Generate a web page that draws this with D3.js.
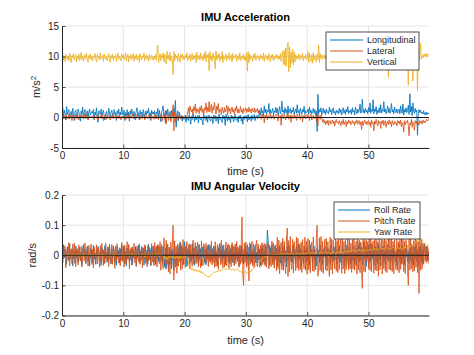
<!DOCTYPE html>
<html>
<head>
<meta charset="utf-8">
<script src="https://cdn.jsdelivr.net/npm/d3@7"></script>
<style>
  html,body{margin:0;padding:0;background:#fff;}
  text{font-family:"Liberation Sans",Arial,Helvetica,sans-serif;}
</style>
</head>
<body>
<script>
// ---------- DATA (sampled every 0.125 s, one row = 5 s) ----------
const sampleStep = 0.125;

const accel_long = [
0.9,1.6,0.2,1.2,0.6,-0.4,1.8,0.5,1.0,1.3,-0.2,0.7,1.0,0.3,1.5,0.6,-0.5,0.8,1.2,0.4,0.1,1.4,0.9,0.3,-0.6,1.1,0.5,1.7,0.2,0.8,1.3,0.0,0.6,1.1,-0.3,0.9,1.4,0.4,0.7,1.0,
0.7,1.3,-0.3,0.9,0.4,1.6,0.2,-0.8,1.1,0.6,0.5,1.4,0.0,0.8,1.2,0.3,-0.4,0.6,1.0,0.2,0.3,1.5,0.7,-0.2,0.9,1.2,0.4,0.0,1.3,0.5,0.8,-0.5,1.1,0.6,1.4,0.1,0.9,0.4,1.7,0.6,
0.4,1.2,-0.5,0.8,0.3,1.3,0.1,0.9,-0.6,1.1,0.5,1.4,0.7,0.2,1.0,-0.3,0.6,1.0,1.6,0.3,0.8,-0.4,1.2,0.5,0.9,0.1,1.3,0.6,-0.2,1.0,0.4,1.1,0.7,1.5,0.2,0.8,-0.5,1.2,0.6,0.9,
0.5,1.1,-0.2,0.9,0.6,1.5,0.0,1.2,0.4,-0.7,0.8,1.3,1.9,0.3,0.7,-0.9,1.1,0.5,1.4,0.2,0.6,1.0,-0.4,1.2,0.8,0.1,1.6,0.4,2.8,-1.6,0.6,1.1,-0.5,0.9,0.3,-0.2,0.4,-0.6,0.2,-0.3,
-0.2,0.4,-0.8,0.1,-0.3,-0.5,0.5,-0.1,-1.1,0.2,-0.3,0.6,0.0,-0.7,0.3,-0.4,0.0,0.3,-0.9,0.4,-0.2,-0.4,0.1,-0.6,-1.2,0.5,-0.2,0.2,-0.5,0.3,-0.8,0.1,0.4,-0.3,-0.6,0.2,-0.1,-1.0,0.4,-0.2,
0.3,-0.6,0.2,-0.1,-1.0,0.6,-0.3,0.0,-0.5,-0.8,0.4,-0.2,0.2,-1.3,0.5,-0.1,-0.6,0.3,-0.4,0.1,-0.9,0.4,-0.2,0.2,-0.7,0.0,0.5,-0.3,-0.5,0.1,-0.8,0.3,-0.2,0.4,-0.6,0.0,-1.1,0.2,-0.3,0.3,
-0.2,0.3,-0.7,0.5,-0.4,0.1,0.2,-0.6,0.4,-0.3,0.0,0.5,-0.5,0.2,0.3,-0.2,0.4,0.1,1.2,0.4,1.6,0.7,1.1,0.3,1.9,0.8,1.4,0.5,1.2,0.9,2.3,0.6,1.3,0.7,1.0,1.5,0.4,1.1,0.8,1.7,
0.8,1.5,0.4,1.1,1.8,0.6,1.0,2.7,0.9,1.2,0.5,1.6,0.8,1.3,0.4,1.9,0.7,1.1,1.5,0.6,1.2,0.9,1.7,0.5,1.0,1.4,0.7,2.1,0.8,1.2,0.4,1.5,1.0,0.6,1.3,0.9,1.8,0.5,1.1,0.8,
0.9,1.4,0.5,1.7,0.8,1.2,0.6,1.0,1.5,0.7,1.3,0.4,1.1,-2.3,3.8,0.6,1.3,0.9,1.6,0.4,1.1,1.5,0.7,1.2,0.5,1.4,0.8,1.0,0.6,1.7,0.9,1.3,0.5,1.1,1.6,0.7,1.0,0.4,1.2,0.8,
1.1,0.6,1.5,0.8,1.3,0.4,1.0,1.6,0.7,1.2,0.5,1.4,0.9,1.8,0.6,1.1,0.8,1.3,0.5,1.6,0.9,1.2,0.4,1.7,1.0,0.6,1.4,0.8,1.2,2.2,0.7,1.1,3.0,0.8,1.3,0.7,1.5,0.9,1.2,0.6,
1.6,0.9,2.4,0.7,1.3,1.0,2.9,0.6,1.4,1.0,1.8,0.5,1.2,0.8,1.6,0.8,2.1,0.7,1.3,1.0,2.6,0.9,1.4,0.6,1.1,1.9,0.8,1.5,0.7,1.2,2.3,0.9,1.3,0.6,1.7,1.0,0.8,1.4,0.7,1.1,
1.4,0.6,1.9,1.1,0.7,2.2,0.4,1.3,0.9,1.6,0.8,1.2,2.0,0.5,3.9,0.9,1.8,0.3,2.4,1.0,0.7,1.5,0.9,1.2,-2.9,0.6,1.3,0.8,1.2,0.7,0.9,0.6,1.1,0.5,0.8,0.4,0.9,0.5,0.7,0.6
];

const accel_lat = [
0.2,-0.3,0.5,0.0,0.2,-0.4,0.3,0.1,-0.2,0.6,-0.1,0.2,0.4,-0.5,0.4,0.0,0.1,-0.3,0.5,0.1,-0.2,0.3,-0.4,0.2,0.0,0.4,-0.1,0.3,-0.3,0.5,0.1,-0.2,0.2,0.4,-0.4,0.1,0.3,-0.1,0.2,0.0,
0.1,0.4,-0.3,0.2,0.0,-0.1,0.5,-0.4,0.1,0.0,0.3,-0.2,0.6,0.1,-0.5,0.2,0.3,0.0,-0.3,0.4,-0.1,0.2,0.1,-0.4,0.3,0.0,0.5,-0.2,0.2,-0.1,0.4,-0.3,0.1,0.3,-0.2,0.5,0.0,-0.4,0.2,0.1,
0.3,-0.2,0.1,0.5,-0.3,0.2,0.0,0.4,-0.5,0.2,-0.1,0.3,0.6,-0.2,0.1,0.0,-0.4,0.2,0.5,-0.1,0.0,0.3,-0.3,0.4,0.1,-0.2,0.2,0.5,-0.4,0.1,0.3,0.0,-0.2,0.4,0.2,-0.3,0.1,0.5,-0.1,0.2,
-0.3,0.4,0.1,-0.2,0.5,0.0,-0.4,0.2,0.3,0.0,0.7,-0.6,0.2,0.4,-0.3,1.2,-1.1,0.3,0.6,-0.5,0.1,0.5,-0.7,0.9,0.2,2.1,-2.2,0.9,-0.8,0.4,-0.5,0.3,-0.2,0.5,0.0,-0.3,0.4,-0.1,0.2,-0.2,
0.1,-0.3,0.2,0.0,1.0,1.6,0.6,1.9,1.2,0.9,1.4,0.4,1.8,1.1,2.2,0.7,1.5,1.0,1.3,0.6,1.7,1.1,2.0,0.8,1.4,0.5,1.6,1.2,2.4,0.8,1.7,1.0,2.6,0.9,1.5,2.2,0.7,1.8,1.2,2.5,
1.5,0.6,1.9,1.2,2.3,0.8,1.4,1.1,0.5,1.7,1.1,0.7,1.6,0.9,1.3,2.0,0.4,1.8,1.0,1.5,0.6,1.2,1.7,0.9,1.3,0.5,1.6,1.1,1.9,0.8,1.4,0.7,1.2,1.8,0.9,1.3,0.6,1.5,1.0,1.2,
1.6,0.8,1.4,0.9,1.7,1.0,1.3,0.7,1.5,1.1,0.9,1.6,0.8,1.3,1.0,1.5,0.7,1.2,0.3,0.2,-0.3,0.6,0.0,0.4,-0.9,0.4,0.1,0.5,-0.4,0.3,-0.1,0.2,0.6,-0.2,0.3,0.0,0.4,-0.3,0.2,0.5,
0.5,0.0,-0.6,0.4,0.2,0.3,-1.3,0.6,0.1,-0.2,0.5,0.2,-0.4,0.3,0.0,0.7,-0.3,0.2,0.4,-0.8,0.4,0.1,-0.2,0.5,0.0,0.3,-0.5,0.6,0.2,-0.1,0.4,-0.3,0.2,0.5,-0.7,0.3,0.1,0.4,-0.2,0.2,
0.5,-0.1,0.3,-0.5,0.2,0.6,-0.4,0.0,0.4,-0.2,0.1,0.3,-0.6,0.2,-1.4,0.5,0.0,-0.3,0.4,-0.1,-0.7,-0.3,-0.9,-0.5,-1.2,-0.6,-1.0,-0.4,-1.3,-0.7,-0.5,-1.1,-0.8,-0.4,-1.0,-0.6,-1.4,-0.7,-0.3,-0.9,
-0.7,-1.1,-0.5,-0.9,-1.4,-0.6,-1.0,-0.3,-1.2,-0.8,-0.5,-1.5,-0.7,-1.1,-0.4,-0.9,-0.6,-1.2,-0.8,-0.5,-1.0,-0.7,-1.3,-0.6,-0.9,-0.4,-1.1,-0.8,-0.5,-1.2,-0.7,-2.0,-0.6,-1.3,-0.8,-0.4,-1.0,-0.7,-1.2,-0.6,
-0.5,-1.2,-0.7,-1.6,-0.4,-1.0,-0.8,-2.2,-0.6,-1.1,-0.3,-0.9,-1.4,-0.5,-1.0,-0.7,-1.8,-0.6,-1.0,-0.4,-1.3,-0.8,-0.5,-1.6,-0.9,-0.6,-1.2,-0.4,-1.0,-0.7,-1.5,-0.5,-0.9,-1.2,-0.6,-1.0,-0.8,-1.4,-0.5,-0.9,
-0.6,-1.1,-0.4,-1.5,-0.8,-1.0,-2.4,-0.5,-1.2,-0.7,-0.9,-0.4,-1.3,-3.0,-0.9,-1.2,-0.3,-1.6,-0.7,-1.0,-2.1,-0.5,-1.0,-0.6,-1.4,-0.8,-1.2,-0.5,-0.9,-0.6,-1.1,-0.4,-0.8,-0.6,-0.9,-0.5,-0.3,-0.6,-0.4,-0.2
];

const accel_vert = [
9.6,10.3,9.4,10.0,9.2,10.4,9.9,9.5,10.1,9.3,10.6,9.7,9.0,10.2,9.8,10.5,9.4,9.9,10.3,9.1,10.0,9.6,10.4,9.3,9.8,10.7,9.5,10.1,9.2,9.9,10.3,9.6,10.5,9.4,9.0,10.2,9.7,10.4,9.5,10.0,
9.3,10.1,9.8,10.5,9.5,9.1,10.3,9.7,10.0,9.4,10.6,9.6,9.9,10.2,9.2,10.4,9.8,9.5,10.1,9.3,9.9,10.5,9.6,9.0,10.2,9.7,10.4,9.4,10.0,9.8,10.3,9.2,9.9,10.6,9.5,10.1,9.7,9.3,10.4,9.8,
10.2,9.5,9.9,10.6,9.3,9.8,10.4,9.1,10.0,9.7,10.3,9.5,9.9,10.5,9.2,10.1,9.6,10.4,9.4,9.8,10.2,9.0,10.5,9.7,9.4,10.1,9.8,10.6,9.3,9.9,10.3,9.6,10.0,9.2,10.4,9.7,9.5,10.2,9.8,9.4,
10.1,9.6,10.3,9.4,10.8,11.9,9.0,9.8,10.5,9.3,10.2,9.7,10.6,9.1,10.4,9.5,8.8,10.9,9.6,10.2,9.4,10.7,9.2,10.0,9.5,7.0,10.8,9.3,10.4,9.7,10.1,9.2,10.5,9.6,9.0,10.3,9.8,10.4,9.5,10.0,
9.5,10.2,9.8,10.6,9.3,10.0,9.6,10.4,9.2,9.9,10.5,9.4,10.1,9.7,10.3,9.0,10.7,9.5,9.8,10.2,9.4,10.6,9.7,10.0,9.3,10.4,9.6,10.9,9.1,10.3,9.8,10.5,7.7,10.8,9.5,10.1,9.2,10.6,9.7,10.0,
8.0,10.9,9.4,10.3,9.7,10.5,9.2,10.0,9.6,10.8,9.0,10.2,9.5,9.9,10.4,9.3,10.1,9.7,10.6,9.4,9.9,10.3,9.1,10.5,9.6,10.0,9.8,10.4,9.2,9.7,10.2,9.5,10.6,9.3,9.9,10.1,9.6,10.4,9.4,10.0,
9.3,10.6,7.6,10.8,9.0,10.4,9.5,10.1,9.8,9.2,10.3,9.7,10.5,9.4,9.9,10.2,9.6,10.0,9.3,10.4,9.7,10.1,9.5,10.6,9.2,9.9,10.3,9.6,10.0,9.4,10.5,9.8,9.1,10.2,9.7,10.4,9.3,10.0,9.6,10.3,
9.8,10.3,9.5,10.1,9.6,10.5,9.2,10.0,10.9,8.7,11.0,8.5,11.4,8.4,11.8,12.3,7.5,11.6,8.2,10.7,8.9,11.2,8.6,10.8,9.1,10.3,9.5,10.1,9.7,10.4,9.4,10.2,9.8,9.6,10.5,9.3,10.0,9.7,10.3,9.5,
9.6,10.8,9.0,10.5,9.4,9.2,10.3,8.9,10.6,9.4,10.2,9.7,9.1,10.4,9.5,11.9,9.0,10.5,9.7,10.2,9.5,9.9,10.3,9.6,10.1,9.4,10.4,9.8,9.5,10.2,9.7,10.0,9.3,10.5,9.6,9.9,10.3,9.4,10.1,9.8,
10.2,9.5,10.6,9.3,10.0,9.7,10.4,9.5,9.9,10.3,9.6,10.1,9.4,10.5,9.8,10.2,9.5,10.3,9.9,9.2,10.4,9.7,10.0,9.5,10.6,9.3,9.9,10.2,9.6,10.4,9.4,10.1,9.8,10.5,9.2,10.0,9.7,10.3,9.5,9.9,
9.6,10.4,9.3,10.1,9.8,10.5,9.4,10.0,9.7,10.3,9.5,10.2,9.1,10.6,9.6,10.2,9.8,10.4,9.3,10.0,9.7,10.5,9.4,10.1,9.9,9.2,6.6,10.3,9.6,10.2,9.8,10.4,9.5,10.0,8.6,10.4,9.7,10.2,9.4,10.1,
10.1,9.4,10.5,9.2,10.6,9.0,10.3,9.7,10.4,9.3,10.0,9.6,5.3,10.7,9.4,10.2,9.8,10.5,6.0,10.3,9.1,10.4,9.6,10.0,4.4,10.8,9.5,10.3,12.2,9.5,9.9,10.3,9.8,10.4,10.1,10.5,9.9,10.4,10.2,10.3
];

const gyro_roll = [
.012,-.025,.034,-.008,.02,.005,-.03,.028,.005,-.018,.038,-.012,.01,.022,-.035,.015,.003,-.027,.031,-.01,.018,-.022,.006,.026,-.015,.008,-.032,.021,.035,-.005,.019,-.028,.011,.03,-.02,.004,-.036,.024,-.009,.017,
-.025,.033,-.014,.007,-.03,.021,-.006,.029,.01,-.019,.013,-.034,.025,-.002,.018,-.027,.032,-.011,.009,-.023,.027,-.016,.036,-.004,-.029,.02,-.013,.031,.008,-.024,.006,-.033,.028,-.008,.016,-.026,.022,-.018,.035,-.02,
-.012,.03,-.028,.012,-.035,.024,-.01,.033,-.022,.015,-.015,.026,-.031,.018,.005,-.012,.029,-.037,.021,-.008,.034,-.026,.015,-.019,.028,-.011,.025,-.033,.009,.03,-.022,.017,-.029,.036,-.014,.022,-.035,.027,-.006,.031,
-.024,.018,-.031,.026,-.012,.035,-.02,.014,.028,-.017,.022,-.025,.03,-.01,-.038,.022,-.046,.035,-.02,-.041,.027,-.03,.014,-.044,.019,-.025,-.05,.03,-.028,.012,-.035,.024,-.01,.033,-.022,.041,-.015,.026,-.031,.018,
.045,-.012,.029,-.037,.021,-.008,.034,-.026,.015,-.019,.038,-.011,.025,-.033,.009,.03,-.022,.017,-.029,.036,-.014,.022,-.035,.027,-.006,.031,-.024,.018,-.031,.026,-.012,.035,-.02,.014,.028,-.017,.022,-.025,.03,-.01,
.029,-.022,.012,-.034,.025,-.008,.037,-.018,.02,-.027,.031,-.011,.016,-.032,.024,-.005,.034,-.021,.013,-.028,.022,-.016,.035,-.025,.009,-.033,.027,-.012,.03,-.02,.015,-.036,.026,-.007,.032,-.023,.018,-.029,.024,-.01,
.03,-.018,.013,-.034,.027,-.009,.036,-.024,.017,-.03,.022,-.013,.033,-.026,.01,-.037,.028,-.015,.021,-.031,.025,-.011,.034,-.022,.014,-.03,.029,-.017,.083,.05,.02,-.033,.026,-.008,.035,-.024,.012,-.028,.031,-.014,
.023,-.035,.018,-.02,.032,-.026,.011,-.034,.027,-.012,.03,-.022,.016,-.038,.029,-.018,.034,-.01,.025,-.021,.012,-.025,.034,-.008,.02,-.03,.028,.005,-.018,.038,-.012,.022,-.035,.015,.003,-.027,.031,-.01,.018,-.022,
.026,-.015,.008,-.032,.035,-.005,.019,-.028,.011,.03,-.02,.004,-.036,.024,-.009,.017,-.025,.033,-.014,.007,-.03,.021,-.006,.029,-.019,.013,-.034,.025,-.002,.018,-.027,.032,-.011,.009,-.023,.027,-.016,.036,-.004,-.029,
.02,-.013,.031,-.024,.006,-.033,.028,-.008,.016,-.038,.022,-.016,.035,-.02,-.041,.027,-.03,.014,-.025,.019,-.017,.03,-.028,.012,-.035,.024,-.01,.033,-.022,.041,-.015,.026,-.031,.018,.045,-.012,.029,-.037,.021,-.008,
.034,-.026,.015,-.019,.038,-.011,.025,-.033,.009,.03,-.022,.017,-.029,.036,-.014,.022,-.035,.027,-.006,.031,-.024,.018,-.031,.026,-.012,.035,-.02,.014,.028,-.017,.022,-.025,.03,-.01,.029,-.022,.012,-.034,.025,-.008,
.037,-.018,.02,-.027,.031,-.011,.016,-.032,.024,-.005,.034,-.021,.013,-.028,.022,-.016,.035,-.025,.009,-.033,.027,-.012,.03,-.02,.015,-.036,.026,-.007,.032,-.023,.018,-.029,.024,.04,.02,-.015,.03,-.018,.013,-.02
];

const gyro_pitch = [
-.03,.038,-.012,.022,.031,-.041,.008,.025,-.015,.042,-.035,.005,.019,-.028,.036,-.01,.04,-.022,-.038,.015,.022,-.032,.034,-.006,-.02,.029,-.039,.012,.03,-.018,.041,-.026,.003,.014,-.036,.033,-.023,.009,.037,-.031,
.02,-.042,.027,-.007,-.016,.035,-.029,.024,.01,-.04,.032,-.021,.039,-.004,-.034,.018,-.027,.04,.002,-.019,.028,-.037,.033,-.013,-.024,.036,-.03,.011,.021,-.043,.031,-.017,.038,-.008,-.026,.025,-.035,.016,.042,-.02,
.03,-.039,.034,-.011,-.028,.045,-.014,.036,-.045,.02,.022,-.033,.027,-.009,.04,-.025,.017,-.036,.031,-.006,-.02,.038,-.03,.013,.029,-.041,.024,-.012,.035,-.027,.008,-.038,.033,-.018,.026,-.01,-.032,.039,-.022,.016,
-.035,.042,-.02,.03,-.039,.012,.034,-.028,.045,-.05,.036,-.015,-.045,.058,.02,-.041,.05,-.03,.038,-.055,.027,-.062,.044,-.018,.035,.1,-.082,.048,-.04,.031,-.06,.038,-.036,.02,.045,-.05,.032,-.044,.052,-.03,
.03,-.04,.022,.045,-.03,.012,.038,-.045,.035,-.015,-.036,.05,-.03,.018,.042,-.028,.008,.044,-.038,.033,-.02,-.042,.048,-.01,-.035,.038,.024,-.03,.04,-.022,.032,-.038,.014,.036,-.026,.046,-.032,.005,.03,-.04,
.045,-.038,.016,.036,-.046,.027,.04,-.032,.05,-.012,-.042,.035,-.04,.02,.044,-.036,.008,.038,-.044,.033,-.024,-.038,.042,-.018,.03,-.034,.038,-.028,.046,-.014,.026,-.04,.034,-.03,.048,.127,-.065,-.1,.04,-.025,
.044,-.04,.036,-.016,-.085,.042,-.03,.024,.046,-.036,.038,-.042,.012,.033,.05,-.035,.038,-.02,-.04,.034,-.037,.042,-.031,.016,.04,-.035,.036,-.04,.024,.044,-.045,.033,-.01,-.038,.047,-.032,.041,-.043,.02,.035,
-.052,.06,-.045,.05,-.062,.018,.043,-.048,.057,-.05,.046,-.03,-.061,.054,.09,-.07,.049,-.055,.062,-.025,-.047,.053,-.059,.045,.012,-.052,.06,-.043,.056,-.05,.035,-.048,.044,-.057,.052,-.02,-.045,.06,-.05,.047,
-.063,.055,-.048,.05,-.058,.028,.044,-.052,.061,-.054,.02,-.049,.056,.1,-.07,-.046,.058,-.05,.062,-.055,.047,-.06,.015,.053,-.049,.056,-.052,.045,-.03,-.07,.06,-.048,.054,-.062,.05,-.02,-.045,.057,-.053,.049,
-.058,.062,-.047,.03,.055,-.06,.054,-.046,.046,-.061,.052,-.048,.018,.057,-.05,.054,-.045,.04,-.057,.052,-.045,.06,-.05,.025,.047,-.063,.055,-.048,.05,-.058,.044,-.052,-.11,.061,-.054,.049,-.056,.053,-.02,.045,
-.046,.058,-.05,.062,-.055,.02,.047,-.06,.053,-.049,.056,-.052,.045,-.07,.06,-.048,.03,.054,-.062,.05,-.045,.057,-.053,.049,-.058,.015,.062,-.047,.055,-.05,.06,-.054,.046,-.061,.052,-.025,-.048,.057,-.05,.045,
-.058,.062,-.047,.055,-.03,.06,-.054,.046,-.061,.052,.02,-.048,-.1,.057,-.05,.054,-.045,.035,-.055,.048,-.052,.06,-.04,.05,-.058,.045,-.127,.057,-.05,.054,-.045,.04,-.03,.035,-.02,.03,-.025,.028,.02,-.03
];

const gyro_yaw = [
.003,-.002,.001,.004,.001,-.003,.000,.002,.005,-.001,.002,-.004,.001,.003,.000,-.002,.004,.001,-.003,.002,.005,-.001,.002,-.002,.003,.001,-.004,.002,.004,-.001,.003,.000,-.003,.002,.004,-.002,.001,.003,-.003,.002,
.000,.004,-.001,.002,-.003,.004,.001,-.002,.003,.000,-.004,.002,.005,-.001,.003,-.002,.001,.004,-.003,.002,.000,-.002,.003,.001,-.004,.002,.004,-.001,.003,.000,-.003,.002,.004,-.002,.001,.003,-.003,.002,.000,.004,
-.001,.002,-.003,.004,.001,-.002,.003,.000,-.004,.002,.005,-.001,.003,-.002,.001,.004,-.003,.002,.000,-.002,.003,.001,-.004,.002,.004,-.002,.000,.003,-.005,.001,.002,-.003,.004,.000,-.002,.003,.001,-.004,.002,.000,
.001,-.004,.002,.004,-.002,.000,.003,-.005,.002,-.003,.004,.000,-.003,-.008,-.004,-.012,-.006,-.015,-.009,-.004,-.010,-.006,-.002,-.007,-.003,-.009,-.005,-.012,-.007,-.003,-.008,-.004,-.010,-.006,-.002,-.008,-.005,-.011,-.006,-.004,
-.006,-.003,-.008,-.005,-.012,-.025,-.04,-.045,-.042,-.048,-.044,-.05,-.047,-.052,-.046,-.049,-.054,-.05,-.048,-.055,-.051,-.058,-.054,-.06,-.057,-.062,-.064,-.068,-.066,-.07,-.071,-.069,-.073,-.07,-.068,-.065,-.062,-.06,-.058,-.057,
-.056,-.054,-.052,-.055,-.05,-.049,-.053,-.051,-.047,-.05,-.048,-.045,-.047,-.049,-.046,-.044,-.048,-.045,-.043,-.047,-.046,-.05,-.048,-.045,-.047,-.052,-.05,-.048,-.044,-.046,-.05,-.053,-.055,-.052,-.056,-.058,-.055,-.06,-.057,-.055,
-.055,-.058,-.06,-.056,-.052,-.058,-.054,-.056,-.049,-.046,-.043,-.04,-.036,-.033,-.03,-.028,-.025,-.022,-.019,-.016,-.014,-.012,-.01,-.008,-.006,-.004,-.003,-.005,-.002,.000,-.002,.002,.000,-.001,.003,.001,.000,.002,-.001,.003,
.001,.004,.002,-.001,.003,.005,.006,.002,.004,.005,.000,.003,.004,.007,.005,.003,.001,.005,.006,.008,.004,.002,.006,.003,.000,.004,.005,.007,.003,.006,.004,.001,.005,.008,.006,.002,.004,.003,.007,.005,
.005,.007,.009,.006,.003,.007,.01,.011,.008,.006,.004,.008,.009,.012,.01,.007,.005,.009,.01,.007,.005,.008,.011,.013,.009,.008,.006,.01,.012,.007,.004,.008,.009,.006,.01,.011,.008,.005,.009,.011,
.007,.01,.012,.009,.014,.011,.01,.006,.011,.013,.015,.009,.012,.013,.017,.014,.011,.015,.012,.014,.018,.016,.014,.01,.013,.016,.018,.015,.02,.017,.013,.016,.019,.015,.012,.017,.02,.018,.014,.016,
.017,.019,.021,.018,.015,.02,.019,.024,.022,.018,.022,.02,.016,.019,.02,.023,.025,.021,.019,.023,.021,.017,.02,.022,.026,.023,.02,.024,.021,.018,.022,.025,.027,.024,.02,.023,.018,.022,.026,.024,
.021,.024,.025,.022,.019,.023,.026,.028,.025,.022,.026,.03,.027,.024,.029,.031,.028,.033,.036,.034,.038,.041,.044,.047,.05,.052,.048,.053,.057,.055,.051,.046,.042,.038,.04,.036,.033,.035,.031,.03
];

const xTicks = [0, 10, 20, 30, 40, 50];
const accelTicks = [-5, 0, 5, 10, 15];
const gyroTicks = [-0.2, -0.1, 0, 0.1, 0.2];
const accelNames = ["Longitudinal", "Lateral", "Vertical"];
const gyroNames = ["Roll Rate", "Pitch Rate", "Yaw Rate"];
const colors = ["#0072BD", "#D95319", "#EDB120"];

// ---------- DRAWING ----------
const W = 474, H = 355;
const time = accel_long.map((_, i) => i * sampleStep);

const svg = d3.select("body").append("svg")
  .attr("width", W).attr("height", H);

const x = d3.scaleLinear().domain([0, d3.max(time)]).range([62, 429]);
const axisColor = "#262626";

function panel(opts) {
  const { y, ticks, series, names, title, titleY, xlabY, ylab, ylabX, legend, clipId } = opts;
  const g = svg.append("g");
  const [y0, y1] = y.range();

  g.append("g").selectAll("line").data(xTicks.slice(1)).join("line")
    .attr("x1", d => x(d)).attr("x2", d => x(d)).attr("y1", y0).attr("y2", y1)
    .attr("stroke", "#e5e5e5").attr("stroke-width", 1);
  g.append("g").selectAll("line").data(ticks).join("line")
    .attr("x1", x.range()[0]).attr("x2", x.range()[1]).attr("y1", d => y(d)).attr("y2", d => y(d))
    .attr("stroke", "#e5e5e5").attr("stroke-width", 1);

  svg.append("clipPath").attr("id", clipId).append("rect")
    .attr("x", x.range()[0]).attr("y", y1).attr("width", x.range()[1] - x.range()[0]).attr("height", y0 - y1);

  const line = d3.line().x((d, i) => x(time[i])).y(d => y(d));
  const lines = g.append("g").attr("clip-path", `url(#${clipId})`);
  series.forEach((s, k) => {
    lines.append("path").datum(s).attr("d", line)
      .attr("fill", "none").attr("stroke", colors[k]).attr("stroke-width", 0.85)
      .attr("stroke-linejoin", "round");
  });
  lines.append("line").attr("x1", x(0)).attr("x2", x(d3.max(time)))
    .attr("y1", y(0)).attr("y2", y(0)).attr("stroke", "#1a1a1a").attr("stroke-width", 1);

  const ax = g.append("g").attr("transform", `translate(0,${y0})`)
    .call(d3.axisBottom(x).tickValues(xTicks).tickSize(-3.5).tickSizeOuter(0).tickPadding(4).tickFormat(d => String(d)));
  const ay = g.append("g").attr("transform", `translate(${x.range()[0]},0)`)
    .call(d3.axisLeft(y).tickValues(ticks).tickSize(-3.5).tickSizeOuter(0).tickPadding(3).tickFormat(d => String(d)));
  [ax, ay].forEach(a => {
    a.select(".domain").attr("stroke", axisColor).attr("stroke-width", 1);
    a.selectAll(".tick line").attr("stroke", axisColor).attr("stroke-width", 0.8);
    a.selectAll(".tick text").attr("fill", axisColor).style("font-size", "10px")
      .style("font-family", "'Liberation Sans', Arial, sans-serif");
  });

  g.append("text").attr("x", (x.range()[0] + x.range()[1]) / 2).attr("y", titleY)
    .attr("text-anchor", "middle").style("font-size", "11px").style("font-weight", "bold")
    .attr("fill", "#000").text(title);
  g.append("text").attr("x", (x.range()[0] + x.range()[1]) / 2).attr("y", xlabY)
    .attr("text-anchor", "middle").style("font-size", "11px").attr("fill", axisColor).text("time (s)");
  const yl = g.append("text").attr("transform", `translate(${ylabX},${(y0 + y1) / 2}) rotate(-90)`)
    .attr("text-anchor", "middle").style("font-size", "11px").attr("fill", axisColor);
  ylab(yl);

  const lg = g.append("g");
  lg.append("rect").attr("x", legend.x).attr("y", legend.y).attr("width", legend.w).attr("height", legend.h)
    .attr("fill", "#fff").attr("stroke", "#3a3a3a").attr("stroke-width", 0.9);
  names.forEach((n, k) => {
    const cy = legend.y + 8 + k * 11;
    lg.append("line").attr("x1", legend.x + legend.lx0).attr("x2", legend.x + legend.lx1)
      .attr("y1", cy).attr("y2", cy).attr("stroke", colors[k]).attr("stroke-width", 1);
    lg.append("text").attr("x", legend.x + legend.tx).attr("y", cy + 3.3)
      .style("font-size", "9px").attr("fill", axisColor).text(n);
  });
}

panel({
  y: d3.scaleLinear().domain([-5, 15]).range([148, 26]),
  ticks: accelTicks,
  series: [accel_long, accel_lat, accel_vert],
  names: accelNames,
  title: "IMU Acceleration", titleY: 21, xlabY: 175,
  ylabX: 40,
  ylab: t => { t.append("tspan").text("m/s"); t.append("tspan").attr("dy", -4).style("font-size", "8px").text("2"); },
  legend: { x: 326, y: 32, w: 93, h: 38, lx0: 4, lx1: 37, tx: 41 },
  clipId: "c1"
});

panel({
  y: d3.scaleLinear().domain([-0.2, 0.2]).range([315.5, 195]),
  ticks: gyroTicks,
  series: [gyro_roll, gyro_pitch, gyro_yaw],
  names: gyroNames,
  title: "IMU Angular Velocity", titleY: 190, xlabY: 344,
  ylabX: 36,
  ylab: t => t.text("rad/s"),
  legend: { x: 334, y: 202, w: 86, h: 37, lx0: 4, lx1: 36, tx: 40 },
  clipId: "c2"
});
</script>
</body>
</html>
